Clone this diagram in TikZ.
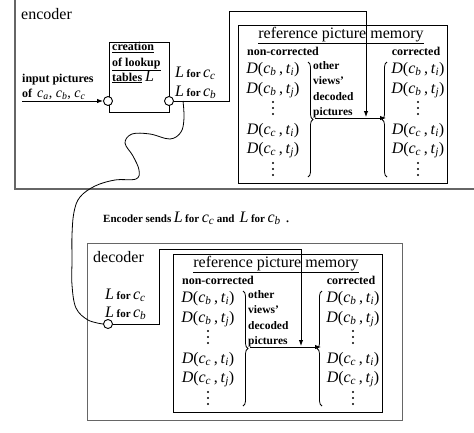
\documentclass[tikz,border=0pt]{standalone}
\usepackage{fontspec}
\setmainfont{Liberation Serif}
\usetikzlibrary{arrows.meta,decorations.pathreplacing,calc}
\newcommand\cs[1]{\textit{c}\textsubscript{\textit{#1}}}
\newcommand\Dent[2]{\textit{D}(\cs{#1}\,,\,\textit{t}\textsubscript{\textit{#2}})}
\newcommand\bigf{\fontsize{16}{18}\selectfont}
\newcommand\smallb{\fontsize{11}{13}\selectfont\bfseries}
\newcommand\Lfor[1]{{\bigf\textit{L}}\ {\smallb for}\ {\bigf\cs{#1}}}
\tikzset{
 outerbox/.style={draw=black!60, line width=1.3pt},
 membox/.style={draw=black, line width=0.9pt, inner sep=0, minimum width=209pt, minimum height=158pt, anchor=north west},
 txt/.style={inner sep=0, anchor=base west},
 bigtxt/.style={txt, font=\bigf},
 lbl/.style={txt, font=\fontsize{11.5}{13}\selectfont\bfseries},
 head/.style={txt, font=\fontsize{12}{14}\selectfont\bfseries},
 dent/.style={inner sep=0, anchor=base, font=\bigf},
 port/.style={circle, draw, fill=white, line width=0.9pt, minimum size=9pt, inner sep=0},
 wire/.style={line width=0.9pt},
 arr/.style={wire, -{Latex[length=6pt,width=4.5pt]}},
 bracestyle/.style={line width=0.8pt, decorate, decoration={brace, amplitude=5pt}},
 wave/.style={line width=0.8pt},
}
\newcommand\memblock[3]{%
 \begin{scope}[shift={(#2,#3)}]
  \node[membox] (#1box) at (0,0) {};
  \node[inner sep=0, anchor=base, font=\bigf] (#1title) at (103,13) {\underline{reference picture memory}};
  \node[inner sep=0, anchor=base, font=\fontsize{12}{14}\selectfont\bfseries] (#1nc) at (45,30) {non-corrected};
  \node[inner sep=0, anchor=base, font=\fontsize{12}{14}\selectfont\bfseries] (#1co) at (178,30) {corrected};
  \node[dent] (#1l1) at (35,48) {\Dent{b}{i}};
  \node[dent] (#1l2) at (35,68) {\Dent{b}{j}};
  \node[dent] (#1l3) at (35,109) {\Dent{c}{i}};
  \node[dent] (#1l4) at (35,128) {\Dent{c}{j}};
  \node[dent] (#1r1) at (180,48) {\Dent{b}{i}};
  \node[dent] (#1r2) at (180,68) {\Dent{b}{j}};
  \node[dent] (#1r3) at (180,109) {\Dent{c}{i}};
  \node[dent] (#1r4) at (180,128) {\Dent{c}{j}};
  \foreach \yy in {77,83,89,138,144,150} {
   \fill (35,\yy) circle (1.1pt);
   \fill (180,\yy) circle (1.1pt);
  }
  \coordinate (#1b1s) at (70,37); \coordinate (#1b1e) at (70,152);
  \coordinate (#1b2s) at (149,152); \coordinate (#1b2e) at (149,37);
  \draw[bracestyle] (#1b1s) -- (#1b1e);
  \draw[bracestyle] (#1b2s) -- (#1b2e);
  \node[lbl] (#1o1) at (75,44) {other};
  \node[lbl] (#1o2) at (75,59) {views’};
  \node[lbl] (#1o3) at (75,75) {decoded};
  \node[lbl] (#1o4) at (75,90) {pictures};
  \coordinate (#1as) at (77,93);
  \coordinate (#1ae) at (148,93);
  \draw[arr] (#1as) -- (#1ae);
  \coordinate (#1in) at (128,92);
 \end{scope}%
}
\begin{document}
\begin{tikzpicture}[x=1pt,y=-1pt]
\useasboundingbox (0,0) rectangle (474,432);
% encoder
\coordinate (e1) at (15,-2); \coordinate (e2) at (15,189); \coordinate (e3) at (476,189);
\draw[outerbox] (e1) -- (e2) -- (e3);
\node[bigtxt] (enc) at (21,19) {encoder};
\node[draw, line width=0.9pt, inner sep=0, minimum width=60pt, minimum height=70pt, anchor=north west] (cre) at (109,42) {};
\node[head] (cr1) at (112,50.5) {\underline{creation}};
\node[head] (cr2) at (112,66) {\underline{of lookup}};
\node[head] (cr3) at (112,81) {\underline{tables} {\bigf\mdseries\textit{L}}};
\node[port] (inL) at (108,101) {};
\node[port] (outR) at (169,101) {};
\coordinate (inS) at (22,101);
\draw[arr] (inS) -- (inL.west);
\node[head] (ip1) at (22,82) {input pictures};
\node[head] (ip2) at (22,97) {of \,{\fontsize{14}{16}\selectfont\mdseries\cs{a}, \cs{b}, \cs{c}}};
\node[txt] (el1) at (175,77) {\Lfor{c}};
\node[txt] (el2) at (175,96) {\Lfor{b}};
\memblock{em}{238}{25}
\coordinate (ec1) at (229,101); \coordinate (ec2) at (229,11); \coordinate (ec3) at (366,11);
\coordinate (emin2) at (366,117);
\draw[wire] (outR.east) -- (ec1) -- (ec2) -- (ec3);
\draw[arr] (ec3) -- (emin2);
% middle text
\node[txt] (send) at (103,222) {{\smallb Encoder sends} {\bigf\textit{L}} {\smallb for} {\bigf\cs{c}} {\smallb and} \ {\bigf\textit{L}} {\smallb for} {\bigf\cs{b}} \ {\bigf .}};
% decoder
\node[outerbox, inner sep=0, minimum width=315pt, minimum height=177pt, anchor=north west] (dec) at (87,243) {};
\node[bigtxt] (decl) at (93,262) {decoder};
\memblock{dm}{173}{254}
\node[port] (dcir) at (108,324) {};
\node[txt] (dl1) at (105,299) {\Lfor{c}};
\node[txt] (dl2) at (105,317) {\Lfor{b}};
\coordinate (dc1) at (159,324); \coordinate (dc2) at (159,249); \coordinate (dc3) at (301,249);
\coordinate (dmin2) at (301,346);
\draw[wire] (dcir.east) -- (dc1) -- (dc2) -- (dc3);
\draw[arr] (dc3) -- (dmin2);
% wave
\coordinate (wS) at (183,101);
\draw[wave] plot[smooth, tension=0.6] coordinates {(wS) (184,118) (181,132) (170,139) (150,134) (132,134) (125,143) (133,156) (139,170) (136,179) (115,180) (95,186) (80,197) (74,212) (72,235) (72,260) (72,285) (76,308) (88,320) (dcir.west)};
\end{tikzpicture}
\end{document}
